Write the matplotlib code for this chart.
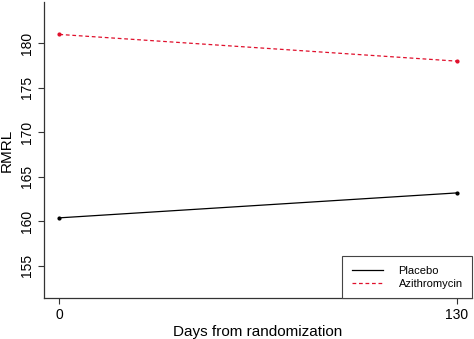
import matplotlib
matplotlib.use('Agg')
from matplotlib import pyplot as plt

days = [0, 130]
placebo = [160.4, 163.2]
azithro = [181.0, 178.0]
yticks = [155, 160, 165, 170, 175, 180]

plt.rcParams['font.family'] = ['Liberation Sans', 'DejaVu Sans']

fig = plt.figure(figsize=(4.74, 3.39), dpi=100)
ax = fig.add_axes([0.093, 0.121, 0.903, 0.872])

ax.plot(days, placebo, color='black', lw=0.9, marker='o', ms=2, label='Placebo')
ax.plot(days, azithro, color='#e0102c', lw=0.9, ls=(0, (3, 2.2)), marker='o', ms=2,
        label='Azithromycin')

ax.set_xlim(-5, 135)
ax.set_ylim(151.4, 184.6)
ax.set_xticks(days)
ax.set_yticks(yticks)
ax.tick_params(labelsize=10, length=4, width=0.8, color='#333333')
for lab in ax.get_yticklabels():
    lab.set_rotation(90)
    lab.set_va('center')
ax.spines['top'].set_visible(False)
ax.spines['right'].set_visible(False)
for s in ['left', 'bottom']:
    ax.spines[s].set_linewidth(0.9)
    ax.spines[s].set_color('#333333')

ax.set_ylabel('RMRL', fontsize=11, labelpad=4)
ax.set_xlabel('Days from randomization', fontsize=11, labelpad=2)

leg = ax.legend(loc='lower right', fontsize=8, fancybox=False, framealpha=1,
                edgecolor='#444444', borderaxespad=0, handlelength=2.8,
                handletextpad=1.4, borderpad=0.85, labelspacing=0.25)
leg.get_frame().set_linewidth(0.8)
for h in leg.legend_handles:
    h.set_marker('')

fig.savefig('out.png', dpi=100)
